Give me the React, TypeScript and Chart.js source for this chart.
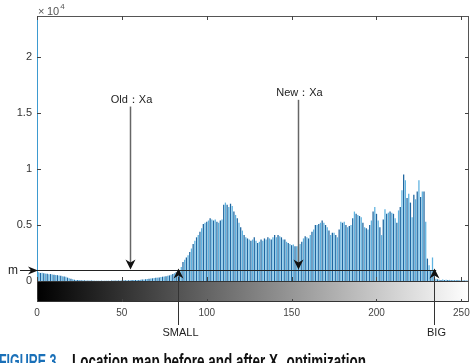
import React, { useEffect, useRef } from 'react';
import { Chart, registerables } from 'chart.js';

Chart.register(...registerables);

// gray levels 0..255 (histogram bins)
const LEVELS: number[] = Array.from({ length: 256 }, (_, i) => i);

// pixel counts per gray level
const COUNTS: number[] = [
  830, 780, 720, 740, 690, 660, 640, 610, 620, 580,
  560, 540, 520, 490, 470, 420, 400, 370, 300, 250,
  200, 160, 120, 100, 90, 80, 70, 60, 60, 50,
  50, 40, 40, 40, 30, 30, 30, 30, 30, 30,
  30, 30, 30, 30, 40, 40, 40, 40, 50, 50,
  50, 60, 60, 60, 70, 70, 80, 80, 90, 90,
  100, 110, 130, 140, 160, 180, 200, 220, 240, 260,
  280, 300, 320, 350, 380, 400, 430, 470, 500, 560,
  620, 700, 780, 850, 950, 1250, 1700, 1900, 2100, 2300,
  2600, 2900, 3300, 3600, 3900, 4100, 4400, 4700, 5100, 5200,
  5300, 5400, 5600, 5500, 5400, 5500, 5300, 5200, 5400, 5500,
  6800, 7000, 6800, 6600, 6900, 6700, 6200, 5900, 5600, 5200,
  4800, 4500, 4100, 3900, 3800, 3700, 3600, 3700, 3900, 3600,
  3400, 3500, 3700, 3600, 3800, 3700, 3900, 3800, 3700, 3900,
  4100, 3900, 4100, 4000, 3900, 3700, 3700, 3500, 3400, 3300,
  3200, 3250, 3100, 3100, 3100, 3300, 3500, 3800, 4000, 3900,
  3800, 4100, 4400, 4600, 5000, 5000, 5100, 5200, 5400, 5200,
  5000, 4800, 4500, 4100, 4300, 4300, 4100, 3900, 4600, 5300,
  5200, 5300, 5000, 4800, 4900, 5000, 5600, 6200, 6000, 5900,
  5800, 5700, 5200, 4800, 4700, 4600, 5000, 5400, 6200, 6600,
  6000, 5400, 4800, 4100, 5500, 6400, 6000, 6100, 6200, 6100,
  6000, 5600, 5200, 6300, 6600, 8100, 9500, 9000, 7400, 7800,
  7000, 5700, 7700, 7300, 8000, 9000, 7500, 8000, 8000, 5300,
  2000, 1400, 900, 2100, 600, 200, 150, 120, 100, 130,
  90, 110, 80, 100, 70, 90, 60, 80, 60, 70,
  50, 60, 40, 50, 40, 30,
];

const X_TICKS: number[] = [0, 50, 100, 150, 200, 250];
const Y_TICKS: number[] = [0, 5000, 10000, 15000, 20000];
const X_MAX = 254.5;
const Y_MAX = 23660;

// annotation anchors (data units)
const M_VALUE = 1000;
const OLD_XA = 55;
const NEW_XA = 154;
const SMALL_X = 83;
const BIG_X = 234;
const OLD_LABEL_Y = 16200;
const NEW_LABEL_Y = 16800;

const FONT = "'Liberation Sans', Arial, sans-serif";

function arrowDown(ctx: CanvasRenderingContext2D, x: number, tipY: number) {
  ctx.beginPath();
  ctx.moveTo(x, tipY);
  ctx.lineTo(x - 5, tipY - 10);
  ctx.lineTo(x, tipY - 7);
  ctx.lineTo(x + 5, tipY - 10);
  ctx.closePath();
  ctx.fill();
}
function arrowUp(ctx: CanvasRenderingContext2D, x: number, tipY: number) {
  ctx.beginPath();
  ctx.moveTo(x, tipY);
  ctx.lineTo(x - 5, tipY + 10);
  ctx.lineTo(x, tipY + 7);
  ctx.lineTo(x + 5, tipY + 10);
  ctx.closePath();
  ctx.fill();
}
function arrowRight(ctx: CanvasRenderingContext2D, tipX: number, y: number) {
  ctx.beginPath();
  ctx.moveTo(tipX, y);
  ctx.lineTo(tipX - 10, y - 4);
  ctx.lineTo(tipX - 7, y);
  ctx.lineTo(tipX - 10, y + 4);
  ctx.closePath();
  ctx.fill();
}

const overlay = {
  id: 'overlay',
  afterDatasetsDraw(chart: any) {
    const { ctx, chartArea: a, scales } = chart;
    const x = scales.x;
    const y = scales.y;
    const cbTop = a.bottom;
    const cbBot = a.bottom + 21;
    ctx.save();

    // grayscale colour bar
    const g = ctx.createLinearGradient(x.getPixelForValue(0), 0, x.getPixelForValue(255), 0);
    g.addColorStop(0, '#000000');
    g.addColorStop(1, '#ffffff');
    ctx.fillStyle = g;
    ctx.fillRect(a.left, cbTop, a.right - a.left, cbBot - cbTop);
    ctx.strokeStyle = '#333';
    ctx.lineWidth = 1;
    ctx.strokeRect(a.left + 0.5, cbTop + 0.5, a.right - a.left - 1, cbBot - cbTop - 1);

    // axes box
    ctx.strokeStyle = '#555';
    ctx.beginPath();
    ctx.moveTo(a.left, a.top + 0.5);
    ctx.lineTo(a.right, a.top + 0.5);
    ctx.moveTo(a.right - 0.5, a.top);
    ctx.lineTo(a.right - 0.5, cbBot);
    ctx.stroke();
    ctx.strokeStyle = '#3d9ad0';
    ctx.beginPath();
    ctx.moveTo(a.left + 0.5, a.top);
    ctx.lineTo(a.left + 0.5, a.bottom);
    ctx.stroke();

    // inward ticks
    ctx.strokeStyle = '#444';
    ctx.beginPath();
    X_TICKS.forEach((t) => {
      const px = Math.round(x.getPixelForValue(t)) + 0.5;
      ctx.moveTo(px, a.top);
      ctx.lineTo(px, a.top + 4);
      ctx.moveTo(px, a.bottom);
      ctx.lineTo(px, a.bottom - 4);
      ctx.moveTo(px, cbBot);
      ctx.lineTo(px, cbBot - 3);
    });
    Y_TICKS.forEach((t) => {
      const py = Math.round(y.getPixelForValue(t)) + 0.5;
      ctx.moveTo(a.left, py);
      ctx.lineTo(a.left + 4, py);
      ctx.moveTo(a.right, py);
      ctx.lineTo(a.right - 4, py);
    });
    ctx.stroke();

    // m threshold line
    const my = Math.round(y.getPixelForValue(M_VALUE)) + 0.5;
    ctx.strokeStyle = '#222';
    ctx.lineWidth = 1;
    ctx.beginPath();
    ctx.moveTo(a.left, my);
    ctx.lineTo(x.getPixelForValue(BIG_X) + 2, my);
    ctx.stroke();

    // m arrow
    ctx.fillStyle = '#111';
    ctx.beginPath();
    ctx.moveTo(20, my);
    ctx.lineTo(a.left - 6, my);
    ctx.stroke();
    arrowRight(ctx, a.left + 1, my);
    ctx.font = `12px ${FONT}`;
    ctx.textAlign = 'center';
    ctx.textBaseline = 'middle';
    ctx.fillStyle = '#222';
    ctx.fillText('m', 13, my);

    // Old / New arrows
    const drawDown = (xv: number, labelV: number, label: string) => {
      const px = Math.round(x.getPixelForValue(xv)) + 0.5;
      const ly = y.getPixelForValue(labelV);
      ctx.strokeStyle = '#666';
      ctx.lineWidth = 1.5;
      ctx.beginPath();
      ctx.moveTo(px, ly + 7);
      ctx.lineTo(px, my - 7);
      ctx.stroke();
      ctx.fillStyle = '#111';
      arrowDown(ctx, px, my - 1);
      ctx.fillStyle = '#222';
      ctx.font = `11px ${FONT}`;
      ctx.textAlign = 'center';
      ctx.textBaseline = 'middle';
      ctx.fillText(label, px + 1, ly);
    };
    drawDown(OLD_XA, OLD_LABEL_Y, 'Old：Xa');
    drawDown(NEW_XA, NEW_LABEL_Y, 'New：Xa');

    // SMALL / BIG arrows
    const drawUp = (xv: number, label: string) => {
      const px = Math.round(x.getPixelForValue(xv)) + 0.5;
      ctx.strokeStyle = '#333';
      ctx.lineWidth = 1;
      ctx.beginPath();
      ctx.moveTo(px, my + 6);
      ctx.lineTo(px, 325);
      ctx.stroke();
      ctx.fillStyle = '#111';
      arrowUp(ctx, px, my - 2);
      ctx.fillStyle = '#222';
      ctx.font = `11px ${FONT}`;
      ctx.textAlign = 'center';
      ctx.textBaseline = 'middle';
      ctx.fillText(label, px + 2, 333);
    };
    drawUp(SMALL_X, 'SMALL');
    drawUp(BIG_X, 'BIG');

    // exponent
    ctx.fillStyle = '#555';
    ctx.textAlign = 'left';
    ctx.textBaseline = 'alphabetic';
    ctx.font = `11px ${FONT}`;
    ctx.fillText('×', 38, 15);
    ctx.fillText('10', 47, 15);
    const w10 = ctx.measureText('10').width;
    ctx.font = `8px ${FONT}`;
    ctx.fillText('4', 47 + w10 + 1, 9);

    // caption (cut by the bottom edge)
    const base = 368;
    const CAP = 20;
    ctx.font = `bold ${CAP}px ${FONT}`;
    ctx.fillStyle = '#1a70b8';
    ctx.fillText('FIGURE 3.', -1, base, 61);
    ctx.fillStyle = '#111';
    const p1 = 'Location map before and after X';
    const p3 = ' optimization';
    const w1 = ctx.measureText(p1).width;
    const w3 = ctx.measureText(p3).width;
    ctx.font = `bold 13px ${FONT}`;
    const w2 = ctx.measureText('a').width;
    const sx = (366 - 72) / (w1 + w2 + w3);
    ctx.translate(72, base);
    ctx.scale(sx, 1);
    ctx.font = `bold ${CAP}px ${FONT}`;
    ctx.fillText(p1, 0, 0);
    ctx.font = `bold 13px ${FONT}`;
    ctx.fillText('a', w1, 4);
    ctx.font = `bold ${CAP}px ${FONT}`;
    ctx.fillText(p3, w1 + w2, 0);

    ctx.restore();
  },
};

export default function App() {
  const ref = useRef<HTMLCanvasElement | null>(null);

  useEffect(() => {
    if (!ref.current) return;
    const chart = new Chart(ref.current, {
      type: 'bar',
      data: {
        datasets: [
          {
            data: LEVELS.map((l, i) => ({ x: l, y: COUNTS[i] })),
            backgroundColor: LEVELS.map((l) => (l % 2 === 0 ? '#1f66a0' : '#5eb3e0')),
            borderWidth: 0,
            barPercentage: 0.75,
            categoryPercentage: 1,
            grouped: false,
          } as any,
        ],
      },
      options: {
        animation: false,
        responsive: false,
        maintainAspectRatio: false,
        layout: { padding: { left: 0, right: 5, top: 16, bottom: 0 } },
        plugins: { legend: { display: false }, tooltip: { enabled: false } },
        scales: {
          x: {
            type: 'linear',
            min: 0,
            max: X_MAX,
            offset: false,
            grid: { display: false, drawTicks: false },
            border: { display: false },
            afterBuildTicks: (s: any) => {
              s.ticks = X_TICKS.map((v) => ({ value: v }));
            },
            afterFit: (s: any) => {
              s.height = 82;
              s.paddingLeft = 0;
              s.paddingRight = 0;
            },
            ticks: {
              padding: 26,
              color: '#444',
              font: { size: 10, family: FONT },
              maxRotation: 0,
              autoSkip: false,
            },
          },
          y: {
            type: 'linear',
            min: 0,
            max: Y_MAX,
            grid: { display: false, drawTicks: false },
            border: { display: false },
            afterBuildTicks: (s: any) => {
              s.ticks = Y_TICKS.map((v) => ({ value: v }));
            },
            afterFit: (s: any) => {
              s.width = 37;
              s.paddingTop = 0;
              s.paddingBottom = 0;
            },
            ticks: {
              padding: 5,
              color: '#333',
              font: { size: 11, family: FONT },
              callback: (v: any) => String(Number(v) / 10000),
            },
          },
        },
      } as any,
      plugins: [overlay],
    });
    return () => chart.destroy();
  }, []);

  return (
    <div style={{ position: 'absolute', left: 0, top: 0, width: 474, height: 363, background: '#fff', overflow: 'hidden' }}>
      <canvas ref={ref} width={474} height={363} style={{ display: 'block' }} />
    </div>
  );
}
